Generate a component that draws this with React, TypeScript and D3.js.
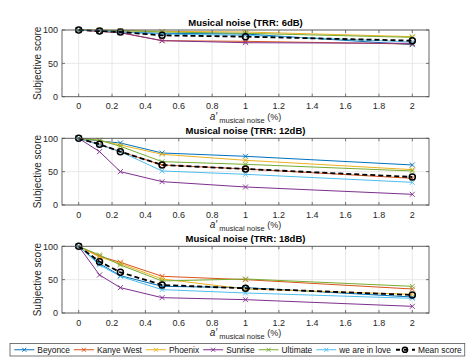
import { useEffect, useRef } from 'react'
import * as d3 from 'd3'

const W = 474
const H = 361
const FONT = '"Liberation Sans", Arial, Helvetica, sans-serif'

const xValues = [0, 0.125, 0.25, 0.5, 1, 2]
const xTicks = [0, 0.2, 0.4, 0.6, 0.8, 1, 1.2, 1.4, 1.6, 1.8, 2]
const yTicks = [0, 50, 100]

const seriesNames = ['Beyonce', 'Kanye West', 'Phoenix', 'Sunrise', 'Ultimate', 'we are in love']
const seriesColors = ['#0072BD', '#D95319', '#EDB120', '#7E2F8E', '#77AC30', '#4DBEEE']

const titles = ['Musical noise (TRR: 6dB)', 'Musical noise (TRR: 12dB)', 'Musical noise (TRR: 18dB)']

// TRR 6dB
const beyonce6 = [100, 99, 97, 95, 94, 78]
const kanye6 = [100, 98, 96, 84, 83, 79]
const phoenix6 = [100, 100, 99, 98, 97, 90]
const sunrise6 = [100, 98, 96, 84, 81, 80]
const ultimate6 = [100, 99, 99, 97, 95, 89]
const love6 = [100, 99, 97, 94, 92, 82]
const mean6 = [100, 98.5, 97, 92, 90, 84]

// TRR 12dB
const beyonce12 = [100, 96, 93, 78, 73, 60]
const kanye12 = [100, 91, 80, 60, 54, 40]
const phoenix12 = [100, 97, 90, 76, 67, 53]
const sunrise12 = [100, 80, 50, 35, 27, 16]
const ultimate12 = [100, 97, 88, 65, 61, 51]
const love12 = [100, 90, 80, 51, 46, 34]
const mean12 = [100, 91, 80, 60, 54, 42]

// TRR 18dB
const beyonce18 = [100, 74, 56, 40, 38, 24]
const kanye18 = [100, 85, 76, 55, 50, 36]
const phoenix18 = [100, 84, 74, 51, 36, 28]
const sunrise18 = [100, 57, 38, 23, 20, 10]
const ultimate18 = [100, 87, 72, 48, 51, 40]
const love18 = [100, 72, 55, 35, 30, 22]
const mean18 = [100, 77, 61, 42, 37, 27]

const panels = [
  { series: [beyonce6, kanye6, phoenix6, sunrise6, ultimate6, love6], mean: mean6 },
  { series: [beyonce12, kanye12, phoenix12, sunrise12, ultimate12, love12], mean: mean12 },
  { series: [beyonce18, kanye18, phoenix18, sunrise18, ultimate18, love18], mean: mean18 },
]

// axes boxes (top pixel of each panel)
const AX_LEFT = 62
const AX_RIGHT = 429
const AX_TOPS = [30, 138.3, 246.3]
const AX_H = 66.7

export default function App() {
  const svgRef = useRef<SVGSVGElement>(null)

  useEffect(() => {
    const svg = d3.select(svgRef.current)
    svg.selectAll('*').remove()

    const x = d3.scaleLinear().domain([-0.1, 2.1]).range([AX_LEFT, AX_RIGHT])

    const drawX = (g: any, cx: number, cy: number, s: number, color: string, sw: number) => {
      g.append('path')
        .attr('d', `M${cx - s},${cy - s}L${cx + s},${cy + s}M${cx - s},${cy + s}L${cx + s},${cy - s}`)
        .attr('stroke', color).attr('stroke-width', sw).attr('fill', 'none')
    }

    panels.forEach((panel, pi) => {
      const top = AX_TOPS[pi]
      const bottom = top + AX_H
      const y = d3.scaleLinear().domain([0, 100]).range([bottom, top])
      const g = svg.append('g')

      g.append('rect')
        .attr('x', AX_LEFT).attr('y', top)
        .attr('width', AX_RIGHT - AX_LEFT).attr('height', AX_H)
        .attr('fill', '#fff')

      // grid
      g.append('g').selectAll('line').data(xTicks).join('line')
        .attr('x1', d => x(d)).attr('x2', d => x(d))
        .attr('y1', top).attr('y2', bottom)
        .attr('stroke', '#e3e3e3').attr('stroke-width', 0.8)
      g.append('g').selectAll('line').data(yTicks).join('line')
        .attr('x1', AX_LEFT).attr('x2', AX_RIGHT)
        .attr('y1', d => y(d)).attr('y2', d => y(d))
        .attr('stroke', '#e3e3e3').attr('stroke-width', 0.8)

      // series lines + x markers
      const line = d3.line<number>().x((_, i) => x(xValues[i])).y(d => y(d))
      panel.series.forEach((vals, si) => {
        g.append('path').datum(vals)
          .attr('d', line)
          .attr('fill', 'none')
          .attr('stroke', seriesColors[si])
          .attr('stroke-width', 1)
        vals.forEach((v, i) => drawX(g, x(xValues[i]), y(v), 2.5, seriesColors[si], 0.9))
      })

      // mean score
      g.append('path').datum(panel.mean)
        .attr('d', line)
        .attr('fill', 'none')
        .attr('stroke', '#000')
        .attr('stroke-width', 1.8)
        .attr('stroke-dasharray', '5,3')
      g.append('g').selectAll('circle').data(panel.mean).join('circle')
        .attr('cx', (_, i) => x(xValues[i]))
        .attr('cy', d => y(d))
        .attr('r', 3)
        .attr('fill', 'none')
        .attr('stroke', '#000')
        .attr('stroke-width', 1.5)

      // axes box
      g.append('rect')
        .attr('x', AX_LEFT).attr('y', top)
        .attr('width', AX_RIGHT - AX_LEFT).attr('height', AX_H)
        .attr('fill', 'none')
        .attr('stroke', '#555').attr('stroke-width', 0.9)

      // ticks (inward, all four sides)
      g.append('g').selectAll('path').data(xTicks).join('path')
        .attr('d', d => `M${x(d)},${bottom}v-3M${x(d)},${top}v3`)
        .attr('stroke', '#555').attr('stroke-width', 0.8)
      g.append('g').selectAll('path').data(yTicks).join('path')
        .attr('d', d => `M${AX_LEFT},${y(d)}h3M${AX_RIGHT},${y(d)}h-3`)
        .attr('stroke', '#555').attr('stroke-width', 0.8)

      // tick labels
      g.append('g').selectAll('text').data(xTicks).join('text')
        .attr('x', d => x(d)).attr('y', bottom + 12.5)
        .attr('text-anchor', 'middle')
        .attr('font-size', 9).attr('fill', '#262626').attr('font-family', FONT)
        .text(d => d3.format('~g')(d))
      g.append('g').selectAll('text').data(yTicks).join('text')
        .attr('x', AX_LEFT - 4).attr('y', d => y(d) + 3.2)
        .attr('text-anchor', 'end')
        .attr('font-size', 9).attr('fill', '#262626').attr('font-family', FONT)
        .text(d => d)

      // title
      g.append('text')
        .attr('x', (AX_LEFT + AX_RIGHT) / 2).attr('y', top - 4)
        .attr('text-anchor', 'middle')
        .attr('font-size', 9.5).attr('font-weight', 'bold')
        .attr('fill', '#000').attr('font-family', FONT)
        .text(titles[pi])

      // y label
      g.append('text')
        .attr('transform', `translate(${41},${(top + bottom) / 2}) rotate(-90)`)
        .attr('text-anchor', 'middle')
        .attr('font-size', 10).attr('fill', '#262626').attr('font-family', FONT)
        .text('Subjective score')

      // x label
      const xl = g.append('text')
        .attr('x', (AX_LEFT + AX_RIGHT) / 2).attr('y', bottom + 23)
        .attr('text-anchor', 'middle')
        .attr('fill', '#262626').attr('font-family', FONT)
      xl.append('tspan').attr('font-style', 'italic').attr('font-size', 10).text('a\u2032')
      xl.append('tspan').attr('font-size', 7.5).attr('dy', 3).text(' musical noise')
      xl.append('tspan').attr('font-size', 9).attr('dy', -3).text(' (%)')
    })

    // legend
    const lg = svg.append('g')
    const lgTop = 343.5
    const lgH = 12.5
    const cy = lgTop + lgH / 2
    const box = lg.append('rect')
      .attr('x', 10).attr('y', lgTop).attr('height', lgH)
      .attr('fill', '#fff').attr('stroke', '#555').attr('stroke-width', 0.8)
    const entries = [...seriesNames.map((n, i) => ({ name: n, color: seriesColors[i], mean: false })),
      { name: 'Mean score', color: '#000', mean: true }]
    let cx = 14.3
    entries.forEach(e => {
      if (e.mean) {
        lg.append('line').attr('x1', cx).attr('x2', cx + 20).attr('y1', cy).attr('y2', cy)
          .attr('stroke', '#000').attr('stroke-width', 1.8).attr('stroke-dasharray', '4,4')
          .attr('stroke-dashoffset', -1)
        lg.append('circle').attr('cx', cx + 10).attr('cy', cy).attr('r', 2.6)
          .attr('fill', 'none').attr('stroke', '#000').attr('stroke-width', 1.5)
      } else {
        lg.append('line').attr('x1', cx).attr('x2', cx + 20).attr('y1', cy).attr('y2', cy)
          .attr('stroke', e.color).attr('stroke-width', 1)
        drawX(lg, cx + 10, cy, 2, e.color, 0.9)
      }
      const t = lg.append('text')
        .attr('x', cx + 23).attr('y', cy + 3.1)
        .attr('font-size', 8.4).attr('fill', '#111').attr('font-family', FONT)
        .text(e.name)
      const w = (t.node() as SVGTextElement).getComputedTextLength()
      cx += 23 + w + 4
    })
    box.attr('width', cx - 1 - 10)
  }, [])

  return (
    <div style={{ position: 'absolute', left: 0, top: 0 }}>
      <svg ref={svgRef} width={W} height={H} style={{ display: 'block', background: '#fff' }} />
    </div>
  )
}
